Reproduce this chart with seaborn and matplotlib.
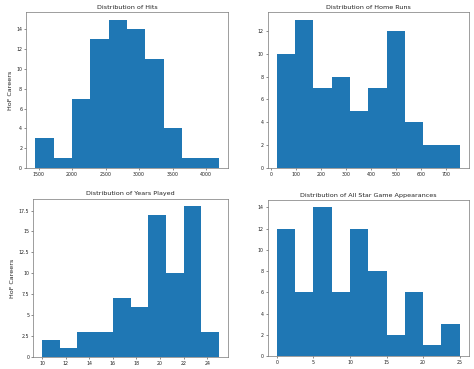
import numpy as np
import pandas as pd
import matplotlib
matplotlib.use("Agg")
import matplotlib.pyplot as plt
import seaborn as sns

# Data: histogram counts (10 bins) and data range for each stat
hits_counts = [3, 1, 7, 13, 15, 14, 11, 4, 1, 1]
hits_range = [1450, 4189]
hr_counts = [10, 13, 7, 8, 5, 7, 12, 4, 2, 2]
hr_range = [24, 755]
years_counts = [2, 1, 3, 3, 7, 6, 17, 10, 18, 3]
years_range = [10, 25]
allstar_counts = [12, 6, 14, 6, 12, 8, 2, 6, 1, 3]
allstar_range = [0, 25]

titles = ["Distribution of Hits", "Distribution of Home Runs",
          "Distribution of Years Played", "Distribution of All Star Game Appearances"]
hits_ticks = [1500, 2000, 2500, 3000, 3500, 4000]
hr_ticks = [0, 100, 200, 300, 400, 500, 600, 700]
years_ticks = [10, 12, 14, 16, 18, 20, 22, 24]
allstar_ticks = [0, 5, 10, 15, 20, 25]
hits_yticks = [0, 2, 4, 6, 8, 10, 12, 14]
hr_yticks = [0, 2, 4, 6, 8, 10, 12]
years_yticks = [0, 2.5, 5, 7.5, 10, 12.5, 15, 17.5]
allstar_yticks = [0, 2, 4, 6, 8, 10, 12, 14]

sns.set_style("white")
plt.rcParams['font.family'] = ['DejaVu Sans']

fig = plt.figure(figsize=(4.74, 3.69), dpi=100)
positions = [
    [0.055, 0.545, 0.426, 0.422],
    [0.565, 0.545, 0.424, 0.422],
    [0.070, 0.033, 0.411, 0.428],
    [0.565, 0.035, 0.424, 0.423],
]
datasets = [
    (hits_counts, hits_range, hits_ticks, hits_yticks, "HoF Careers"),
    (hr_counts, hr_range, hr_ticks, hr_yticks, ""),
    (years_counts, years_range, years_ticks, years_yticks, "HoF Careers"),
    (allstar_counts, allstar_range, allstar_ticks, allstar_yticks, ""),
]
for pos, (counts, rng, xt, yt, ylab), title in zip(positions, datasets, titles):
    ax = fig.add_axes(pos)
    edges = [float(e) for e in np.linspace(rng[0], rng[1], len(counts) + 1)]
    centers = [(a + b) / 2 for a, b in zip(edges[:-1], edges[1:])]
    df = pd.DataFrame({"value": centers, "count": [float(c) for c in counts]})
    sns.histplot(data=df, x="value", weights="count", bins=edges, ax=ax,
                 color="#1f77b4", alpha=1, linewidth=0)
    ax.set_title(title, fontsize=4.6, pad=2.5, color="#222222")
    ax.set_ylabel(ylab, fontsize=4.6, labelpad=2.5, color="#222222")
    ax.set_xlabel("")
    ax.set_xticks(xt)
    ax.set_yticks(yt)
    ax.set_xticklabels([str(v) for v in xt])
    ax.set_yticklabels([("%g" % v if isinstance(v, int) else "%.1f" % v) for v in yt])
    ax.margins(x=0.05, y=0.05)
    ax.set_ylim(0, max(counts) * 1.05)
    ax.tick_params(axis='both', labelsize=3.4, length=1.6, width=0.4, pad=1.2,
                   bottom=True, left=True, color="#333333", labelcolor="#222222")
    for s in ax.spines.values():
        s.set_linewidth(0.5)
        s.set_color("#777777")

fig.savefig("out.png", dpi=100)
